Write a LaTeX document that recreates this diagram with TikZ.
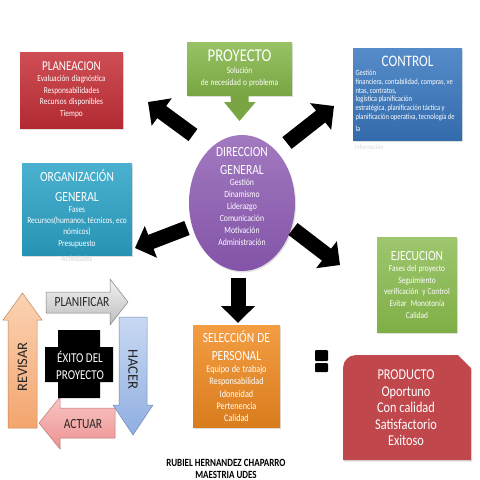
\documentclass[tikz,border=0pt]{standalone}
\usepackage{fontspec}
\setmainfont{Carlito}[FakeStretch=0.82]
\newfontfamily\ancha{Carlito}
\usetikzlibrary{shapes,arrows,positioning,calc,shadows,arrows.meta}

\definecolor{rojo}{HTML}{C62F37}
\definecolor{verde}{HTML}{86B84A}
\definecolor{azul}{HTML}{3877BF}
\definecolor{cian}{HTML}{2BA3C7}
\definecolor{morado}{HTML}{8A58B0}
\definecolor{naranja}{HTML}{F18B21}
\definecolor{rojop}{HTML}{C0474B}
\definecolor{revA}{HTML}{FAD3B4}
\definecolor{revB}{HTML}{F3A56E}
\definecolor{hacA}{HTML}{C9D9F3}
\definecolor{hacB}{HTML}{8FAEE0}
\definecolor{actA}{HTML}{F8C6C4}
\definecolor{actB}{HTML}{EC9190}
\definecolor{plaA}{HTML}{F2F2F2}
\definecolor{plaB}{HTML}{BDBDBD}

\tikzset{
    every node/.append style={execute at begin node={\spaceskip=0pt\xspaceskip=0pt}},
    caja/.style={rectangle, text=white, align=center, inner sep=0pt,
        drop shadow={opacity=0.25, shadow xshift=1pt, shadow yshift=-1.5pt}},
    flecha/.style={line width=15pt, -{Triangle[length=17pt,width=33pt]}},
    pdca/.style={draw=#1, line width=0.5pt},
    rotulo/.style={text=black!85, font=\fontsize{14}{16}\selectfont},
    rotulov/.style={text=black!85, font=\ancha\fontsize{14.5}{16}\selectfont},
}

\begin{document}
\begin{tikzpicture}[x=1pt, y=-1pt]
    \useasboundingbox (0,0) rectangle (480,480);

    % cajas
    \node[caja, top color=rojo!85!white, bottom color=rojo!90!black,
        minimum width=103, minimum height=76, text width=100] (plan) at (71.5,90)
        {{\fontsize{13.5}{15}\selectfont PLANEACION\par}\fontsize{9}{11.5}\selectfont
        Evaluación diagnóstica\\Responsabilidades\\Recursos disponibles\\Tiempo};
    \node[caja, top color=verde!85!white, bottom color=verde!90!black,
        minimum width=105, minimum height=53, text width=102] (proy) at (239.5,68.5)
        {{\fontsize{18}{18}\selectfont PROYECTO\par}\fontsize{9}{11.5}\selectfont
        Solución\\de necesidad o problema};
    \node[caja, top color=azul!85!white, bottom color=azul!90!black, align=left,
        minimum width=109, minimum height=92, text width=104] (ctrl) at (407.5,94)
        {{\centering\fontsize{16}{17}\selectfont CONTROL\par}\raggedright\fontsize{8}{8.8}\selectfont
        Gestión\\financiera, contabilidad, compras, ve\\ntas, contratos,\\logística planificación\\
        estratégica, planificación táctica y\\planificación operativa, tecnología de\\la};
    \node[caja, top color=cian!85!white, bottom color=cian!90!black,
        minimum width=110, minimum height=92, text width=108] (org) at (77,209)
        {{\fontsize{14}{20}\selectfont ORGANIZACIÓN\\GENERAL\par}\fontsize{9}{11}\selectfont
        Fases\\Recursos(humanos, técnicos, eco\\nómicos)\\Presupuesto};
    \node[caja, top color=verde!80!white, bottom color=verde!95!black,
        minimum width=80, minimum height=95, text width=78] (ejec) at (417,284.5)
        {{\fontsize{14}{15.5}\selectfont EJECUCION\par}\fontsize{9}{11.5}\selectfont
        Fases del proyecto\\Seguimiento\\verificación~ y Control\\Evitar~ Monotonía\\Calidad};
    \node[caja, top color=naranja!85!white, bottom color=naranja!90!black,
        minimum width=87, minimum height=102, text width=85] (sel) at (236.5,376)
        {{\fontsize{14}{18}\selectfont SELECCIÓN DE\\PERSONAL\par}\fontsize{10}{12.2}\selectfont
        Equipo de trabajo\\Responsabilidad\\Idoneidad\\Pertenencia\\Calidad};

    % textos tenues
    \node[text=gray!30, anchor=west, inner sep=0pt, font=\fontsize{7}{8}\selectfont]
        (info) at (355,147) {Información};
    \node[text=gray!35, inner sep=0pt, font=\fontsize{8}{9}\selectfont]
        (activ) at (77,259) {Actividades};

    % direccion general
    \node[ellipse, top color=morado!80!white, bottom color=morado!95!black,
        minimum width=106, minimum height=136, inner sep=0pt,
        drop shadow={opacity=0.25, shadow xshift=1pt, shadow yshift=-1.5pt}] (dg) at (242,203) {};
    \node[text=white, align=center, text width=100, inner sep=0pt] (dgt) at (242,196)
        {{\fontsize{14}{18}\selectfont DIRECCION\\GENERAL\par}\fontsize{9.4}{11.8}\selectfont
        Gestión\\Dinamismo\\Liderazgo\\Comunicación\\Motivación\\Administración};

    % flecha del proyecto
    \fill[verde!90!black] (proy.south) ++(-9,0) -- ++(18,0) -- ++(0,7) -- ++(7,0)
        -- (239.5,121) -- (224,102) -- ++(7,0) -- cycle;

    % flechas negras
    \coordinate (tA) at (193,135);  \coordinate (pA) at (148,102);
    \coordinate (tB) at (287,143);  \coordinate (pB) at (334,106);
    \coordinate (tC) at (187,228);  \coordinate (pC) at (135,248);
    \coordinate (tD) at (293,229);  \coordinate (pD) at (340,265);
    \coordinate (tE) at (238,278);  \coordinate (pE) at (238,323);
    \foreach \t/\p in {tA/pA, tB/pB, tC/pC, tD/pD, tE/pE}
        \draw[flecha] (\t) -- (\p);

    % producto
    \fill[rojop, drop shadow={opacity=0.25, shadow xshift=1pt, shadow yshift=-1.5pt}]
        (343,460) -- (343,368) to[out=90, in=180] (356,355) -- (458,355)
        -- (471,368) -- (471,460) -- cycle;
    \node[text=white, align=center, inner sep=0pt, font=\fontsize{15}{16.5}\selectfont]
        (prod) at (406,408) {PRODUCTO\\Oportuno\\Con calidad\\Satisfactorio\\Exitoso};
    \fill[black, rounded corners=1pt] (315,350) rectangle (328,361);
    \fill[black, rounded corners=1pt] (315,363) rectangle (328,372);

    % ciclo PHVA
    \path[pdca=revB!80!black, top color=revA, bottom color=revB]
        (8,428) -- (8,320) -- (3,320) -- (22.5,293) -- (42,320) -- (37,320) -- (37,428) -- cycle;
    \path[pdca=hacB!80!black, top color=hacA, bottom color=hacB]
        (119,317) -- (147,317) -- (147,405) -- (153,405) -- (133,435) -- (113,405)
        -- (119,405) -- cycle;
    \path[pdca=actB!80!black, top color=actA, bottom color=actB]
        (115,408) -- (60,408) -- (60,397) -- (39,423) -- (60,449) -- (60,438)
        -- (115,438) -- cycle;
    \path[pdca=gray, top color=plaA, bottom color=plaB]
        (46,292) -- (110,292) -- (110,279) -- (128,302) -- (110,325) -- (110,313)
        -- (46,313) -- cycle;
    \fill[black] (58,330) -- (100,330) -- (100,347) -- (113,347) -- (113,382)
        -- (100,382) -- (100,398) -- (58,398) -- (58,382) -- (45,382) -- (45,347)
        -- (58,347) -- cycle;

    \node[rotulo] (planif) at (82,302) {PLANIFICAR};
    \node[rotulov, rotate=-90] (hacer) at (133,369) {HACER};
    \node[rotulo] (actuar) at (83,424) {ACTUAR};
    \node[rotulov, rotate=90] (revisar) at (22.5,367) {REVISAR};
    \node[text=white, align=center, inner sep=0pt, font=\fontsize{13.5}{17}\selectfont]
        (exito) at (80,365) {ÉXITO DEL\\PROYECTO};

    % autor
    \node[align=center, inner sep=0pt, font=\bfseries\fontsize{11}{12}\selectfont]
        (autor) at (226,469) {RUBIEL HERNANDEZ CHAPARRO\\MAESTRIA UDES};
\end{tikzpicture}
\end{document}
